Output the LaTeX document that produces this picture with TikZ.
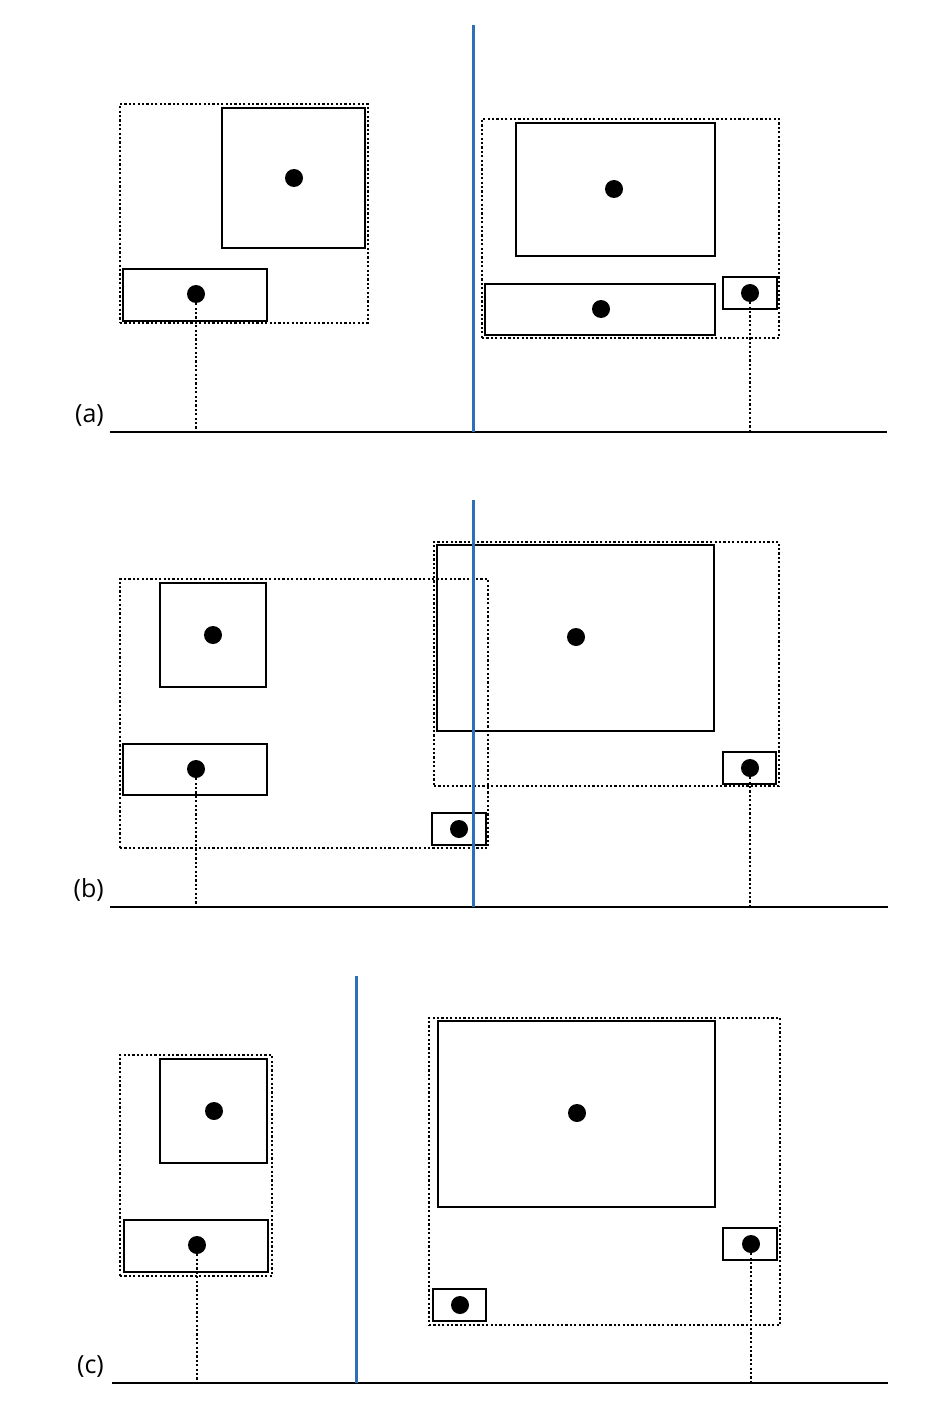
\documentclass[tikz,border=0pt]{standalone}
\usepackage{fontspec}
\setmainfont{Open Sans}
\usetikzlibrary{fit}
\definecolor{ablue}{RGB}{46,112,184}
\begin{document}
\begin{tikzpicture}[x=1pt,y=-1pt,
  box/.style={draw,line width=1.4pt,inner sep=0pt},
  grp/.style={draw,line width=1.1pt,dash pattern=on 2.2pt off 2.2pt,inner sep=0pt},
  dot/.style={circle,fill,inner sep=0pt,minimum size=18pt},
  link/.style={line width=1.1pt,dash pattern=on 2.2pt off 2.2pt},
  base/.style={line width=1.4pt},
  sep/.style={ablue,line width=3pt},
  lab/.style={font=\fontsize{25}{30}\selectfont,anchor=east,inner sep=2pt}]
\useasboundingbox (0,0) rectangle (950,1420);
% ---------- (a)
\coordinate (aL) at (110,432); \coordinate (aR) at (887,432);
\draw[base] (aL) -- (aR);
\node[lab] (la) at (106,416) {(a)};
\coordinate (aS1) at (473,25); \coordinate (aS2) at (473,432);
\draw[sep] (aS1) -- (aS2);
\node[grp,fit={(120,104)(368,323)}] (ag1) {};
\node[box,fit={(222,108)(365,248)}] (ab1) {};
\node[dot] (ad1) at (294,178) {};
\node[box,fit={(123,269)(267,321)}] (ab2) {};
\node[dot] (ad2) at (196,294) {};
\coordinate (ae2) at (196,432);
\draw[link] (ad2) -- (ae2);
\node[grp,fit={(482,119)(779,338)}] (ag2) {};
\node[box,fit={(516,123)(715,256)}] (ab3) {};
\node[dot] (ad3) at (614,189) {};
\node[box,fit={(485,284)(715,335)}] (ab4) {};
\node[dot] (ad4) at (601,309) {};
\node[box,fit={(723,277)(777,309)}] (ab5) {};
\node[dot] (ad5) at (750,293) {};
\coordinate (ae5) at (750,432);
\draw[link] (ad5) -- (ae5);
% ---------- (b)
\coordinate (bL) at (110,907); \coordinate (bR) at (888,907);
\draw[base] (bL) -- (bR);
\node[lab] (lb) at (106,890) {(b)};
\node[grp,fit={(120,579)(488,848)}] (bg1) {};
\node[box,fit={(160,583)(266,687)}] (bb1) {};
\node[dot] (bd1) at (213,635) {};
\node[box,fit={(123,744)(267,795)}] (bb2) {};
\node[dot] (bd2) at (196,769) {};
\coordinate (be2) at (196,907);
\draw[link] (bd2) -- (be2);
\node[box,fit={(432,813)(486,845)}] (bb3) {};
\node[dot] (bd3) at (459,829) {};
\node[grp,fit={(434,542)(779,786)}] (bg2) {};
\node[box,fit={(437,545)(714,731)}] (bb4) {};
\node[dot] (bd4) at (576,637) {};
\node[box,fit={(723,752)(776,784)}] (bb5) {};
\node[dot] (bd5) at (750,768) {};
\coordinate (be5) at (750,907);
\draw[link] (bd5) -- (be5);
\coordinate (bS1) at (473,500); \coordinate (bS2) at (473,907);
\draw[sep] (bS1) -- (bS2);
% ---------- (c)
\coordinate (cL) at (112,1383); \coordinate (cR) at (888,1383);
\draw[base] (cL) -- (cR);
\node[lab] (lc) at (106,1367) {(c)};
\coordinate (cS1) at (356,976); \coordinate (cS2) at (356,1383);
\draw[sep] (cS1) -- (cS2);
\node[grp,fit={(120,1055)(272,1276)}] (cg1) {};
\node[box,fit={(160,1059)(267,1163)}] (cb1) {};
\node[dot] (cd1) at (214,1111) {};
\node[box,fit={(124,1220)(268,1272)}] (cb2) {};
\node[dot] (cd2) at (197,1245) {};
\coordinate (ce2) at (197,1383);
\draw[link] (cd2) -- (ce2);
\node[grp,fit={(429,1018)(780,1325)}] (cg2) {};
\node[box,fit={(438,1021)(715,1207)}] (cb3) {};
\node[dot] (cd3) at (577,1113) {};
\node[box,fit={(723,1228)(777,1260)}] (cb4) {};
\node[dot] (cd4) at (751,1244) {};
\coordinate (ce4) at (751,1383);
\draw[link] (cd4) -- (ce4);
\node[box,fit={(433,1289)(486,1321)}] (cb5) {};
\node[dot] (cd5) at (460,1305) {};
\end{tikzpicture}
\end{document}
